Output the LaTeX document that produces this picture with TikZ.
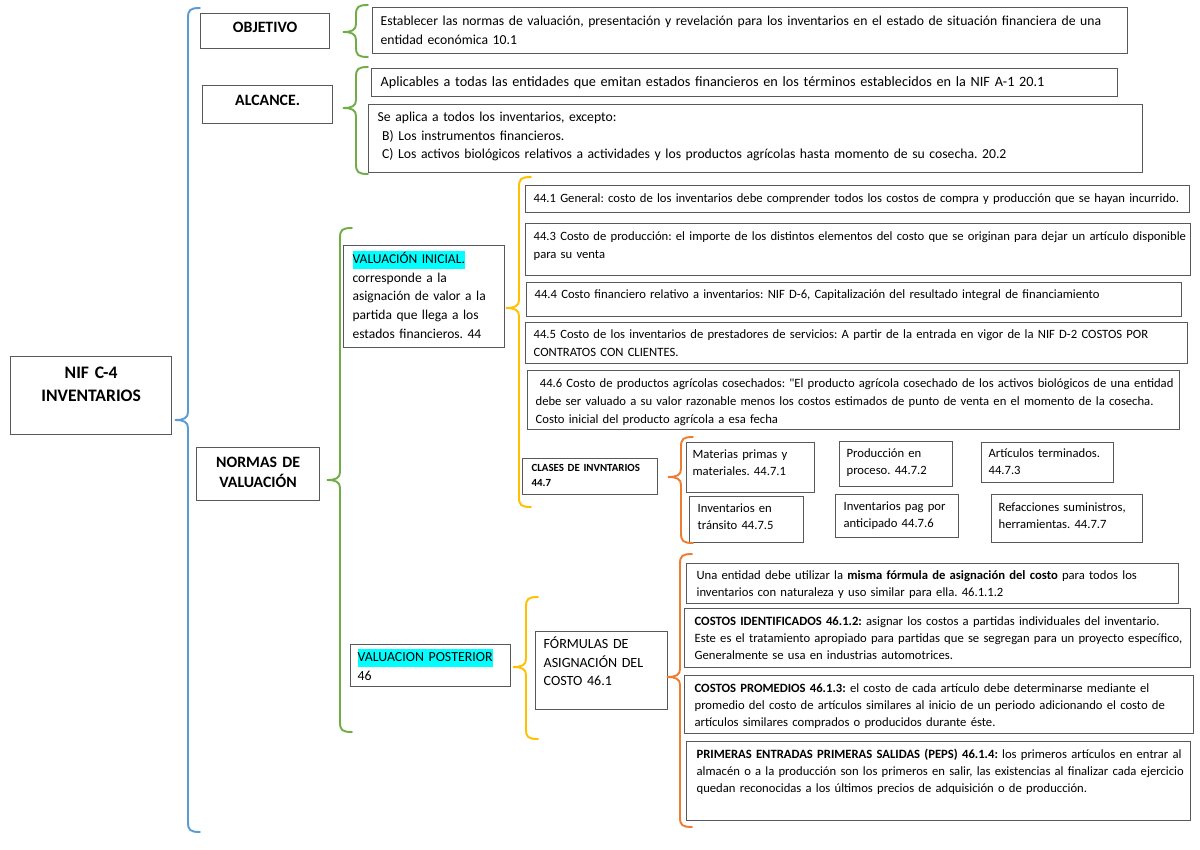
\documentclass[tikz,border=0pt]{standalone}
\usepackage{fontspec}
\setmainfont{Carlito}
\newfontfamily\rectafont{Carlito}
\usepackage{tikz}
\definecolor{framegray}{HTML}{595959}
\definecolor{llazul}{HTML}{5B9BD5}
\definecolor{llverde}{HTML}{70AD47}
\definecolor{llamarillo}{HTML}{FFC000}
\definecolor{llnaranja}{HTML}{ED7D31}
\definecolor{hlcyan}{HTML}{00FFFF}
\frenchspacing
\newlength{\px}\setlength{\px}{0.02cm}
\newcommand{\txtrows}[1]{\begin{tabular}[t]{@{}l@{}}#1\end{tabular}}
\newcommand{\hilite}[1]{{\setlength{\fboxsep}{0pt}\colorbox{hlcyan}{\strut#1}}}
% llave: color, x, arriba, punta, abajo
\newcommand{\llave}[5]{%
  \draw[trazo, #1] (#2+12,#3) .. controls (#2+2,#3) and (#2,#3+2) .. (#2,#3+10)
    -- (#2,#4-8) .. controls (#2,#4-2) and (#2-4,#4) .. (#2-13,#4)
    .. controls (#2-4,#4) and (#2,#4+2) .. (#2,#4+8)
    -- (#2,#5-10) .. controls (#2,#5-2) and (#2+2,#5) .. (#2+12,#5);}
\tikzset{
  cell/.style={draw=framegray, line width=0.7pt, anchor=north west, inner xsep=8\px, inner ysep=0pt, align=left},
  head/.style={cell, align=center, font=\fontsize{9}{11.3}\selectfont\bfseries},
  textA/.style={font=\fontsize{7.8}{10.5}\selectfont},
  textB/.style={font=\fontsize{7.2}{10.2}\selectfont},
  textC/.style={font=\fontsize{7.2}{9.6}\selectfont},
  trazo/.style={line width=1.1pt, line cap=round},
}

\begin{document}
\begin{tikzpicture}[x=0.02cm, y=-0.02cm]
    \fill[white] (0,0) rectangle (1200,849);
    % raiz y encabezados
    \node[head, font=\fontsize{10}{13}\selectfont\bfseries, text width=145\px, text height=22\px, text depth=56\px] (nif) at (10,356) {NIF C-4\\INVENTARIOS};
    \node[head, text width=113\px, text height=19\px, text depth=16\px] (obj) at (200,13) {OBJETIVO};
    \node[head, text width=114\px, text height=20\px, text depth=18\px] (alc) at (202,85) {ALCANCE.};
    \node[head, text width=107\px, text height=20\px, text depth=33\px] (norm) at (196,447) {NORMAS DE\\VALUACIÓN};
    % objetivo y alcance
    \node[cell, textA, text width=739\px, text height=18\px, text depth=28\px] (objtxt) at (372,7) {\txtrows{Establecer las normas de valuación, presentación y revelación para los inventarios en el estado de situación financiera de una\\entidad económica 10.1}};
    \node[cell, font=\fontsize{8.1}{10.5}\selectfont, inner xsep=9\px, text width=728\px, text height=18\px, text depth=10\px] (alc1) at (371,68) {\txtrows{Aplicables a todas las entidades que emitan estados financieros en los términos establecidos en la NIF A-1 20.1}};
    \node[cell, textA, inner xsep=9\px, text width=756\px, text height=17\px, text depth=51\px] (alc2) at (368,104) {\txtrows{Se aplica a todos los inventarios, excepto:\\\ B) Los instrumentos financieros.\\\ C) Los activos biológicos relativos a actividades y los productos agrícolas hasta momento de su cosecha. 20.2}};
    % valuacion inicial
    \node[cell, font=\fontsize{7.7}{10.6}\selectfont, inner xsep=9\px, text width=143\px, text height=18\px, text depth=84\px] (vini) at (343,245) {\txtrows{\hilite{VALUACIÓN INICIAL.}\\corresponde a la\\asignación de valor a la\\partida que llega a los\\estados financieros. 44}};
    \node[cell, textB, text width=648\px, text height=17\px, text depth=10\px] (g441) at (525,185) {\txtrows{44.1 General: costo de los inventarios debe comprender todos los costos de compra y producción que se hayan incurrido.}};
    \node[cell, textB, text width=649\px, text height=17\px, text depth=35\px] (g443) at (525,223) {\txtrows{44.3 Costo de producción: el importe de los distintos elementos del costo que se originan para dejar un artículo disponible\\para su venta}};
    \node[cell, textB, text width=639\px, text height=16\px, text depth=18\px] (g444) at (526,282) {\txtrows{44.4 Costo financiero relativo a inventarios: NIF D-6, Capitalización del resultado integral de financiamiento}};
    \node[cell, textB, text width=646\px, text height=16\px, text depth=25\px] (g445) at (525,322) {\txtrows{44.5 Costo de los inventarios de prestadores de servicios: A partir de la entrada en vigor de la NIF D-2 COSTOS POR\\CONTRATOS CON CLIENTES.}};
    \node[cell, textB, text width=636\px, text height=17\px, text depth=42\px] (g446) at (527,370) {\txtrows{\ 44.6 Costo de productos agrícolas cosechados: {\rectafont"}El producto agrícola cosechado de los activos biológicos de una entidad\\debe ser valuado a su valor razonable menos los costos estimados de punto de venta en el momento de la cosecha.\\Costo inicial del producto agrícola a esa fecha}};
    \node[cell, font=\fontsize{6.2}{8.5}\selectfont\bfseries, inner xsep=9\px, text width=117\px, text height=13\px, text depth=23\px] (clases) at (522,458) {\txtrows{CLASES DE INVNTARIOS\\44.7}};
    % clases de inventarios
    \node[cell, textC, inner xsep=6\px, text width=116\px, text height=16\px, text depth=34\px] (mat) at (686,442) {\txtrows{Materias primas y\\materiales. 44.7.1}};
    \node[cell, textC, inner xsep=7\px, text width=99\px, text height=16\px, text depth=29\px] (proc) at (839,441) {\txtrows{Producción en\\proceso. 44.7.2}};
    \node[cell, textC, inner xsep=7\px, text width=118\px, text height=15\px, text depth=25\px] (term) at (981,442) {\txtrows{Artículos terminados.\\44.7.3}};
    \node[cell, textC, text width=98\px, text height=16\px, text depth=30\px] (trans) at (689,496) {\txtrows{Inventarios en\\tránsito 44.7.5}};
    \node[cell, textC, text width=107\px, text height=16\px, text depth=27\px] (pag) at (835,494) {\txtrows{Inventarios pag por\\anticipado 44.7.6}};
    \node[cell, textC, inner xsep=7\px, text width=137\px, text height=17\px, text depth=31\px] (refac) at (991,494) {\txtrows{Refacciones suministros,\\herramientas. 44.7.7}};
    % valuacion posterior
    \node[cell, font=\fontsize{7.9}{10.5}\selectfont, inner xsep=7\px, text width=146\px, text height=17\px, text depth=25\px] (vpost) at (350,644) {\txtrows{\hilite{VALUACION POSTERIOR}\\46}};
    \node[cell, font=\fontsize{8}{10.5}\selectfont, text width=116\px, text height=17\px, text depth=61\px] (form) at (535,631) {\txtrows{FÓRMULAS DE\\ASIGNACIÓN DEL\\COSTO 46.1}};
    \node[cell, textC, inner xsep=10\px, text width=472\px, text height=16\px, text depth=24\px] (f1) at (686,563) {\txtrows{Una entidad debe utilizar la \textbf{misma fórmula de asignación del costo} para todos los\\inventarios con naturaleza y uso similar para ella. 46.1.1.2}};
    \node[cell, textC, inner xsep=10\px, text width=486\px, text height=17\px, text depth=42\px] (f2) at (684,608) {\txtrows{\textbf{COSTOS IDENTIFICADOS 46.1.2:} asignar los costos a partidas individuales del inventario.\\Este es el tratamiento apropiado para partidas que se segregan para un proyecto específico,\\Generalmente se usa en industrias automotrices.}};
    \node[cell, textC, inner xsep=10\px, text width=489\px, text height=17\px, text depth=41\px] (f3) at (684,675) {\txtrows{\textbf{COSTOS PROMEDIOS 46.1.3:} el costo de cada artículo debe determinarse mediante el\\promedio del costo de artículos similares al inicio de un periodo adicionando el costo de\\artículos similares comprados o producidos durante éste.}};
    \node[cell, textC, inner xsep=10\px, text width=484\px, text height=17\px, text depth=62\px] (f4) at (686,741) {\txtrows{\textbf{PRIMERAS ENTRADAS PRIMERAS SALIDAS (PEPS) 46.1.4:} los primeros artículos en entrar al\\almacén o a la producción son los primeros en salir, las existencias al finalizar cada ejercicio\\quedan reconocidas a los últimos precios de adquisición o de producción.}};
    % llaves
    \llave{llazul}{188}{8}{420}{832}
    \llave{llverde}{356}{5}{32}{57}
    \llave{llverde}{356}{67}{108}{174}
    \llave{llverde}{340}{228}{480}{732}
    \llave{llamarillo}{519}{177}{308}{507}
    \llave{llnaranja}{681}{437}{477}{543}
    \llave{llamarillo}{526}{597}{667}{739}
    \llave{llnaranja}{680}{554}{677}{827}
\end{tikzpicture}
\end{document}
